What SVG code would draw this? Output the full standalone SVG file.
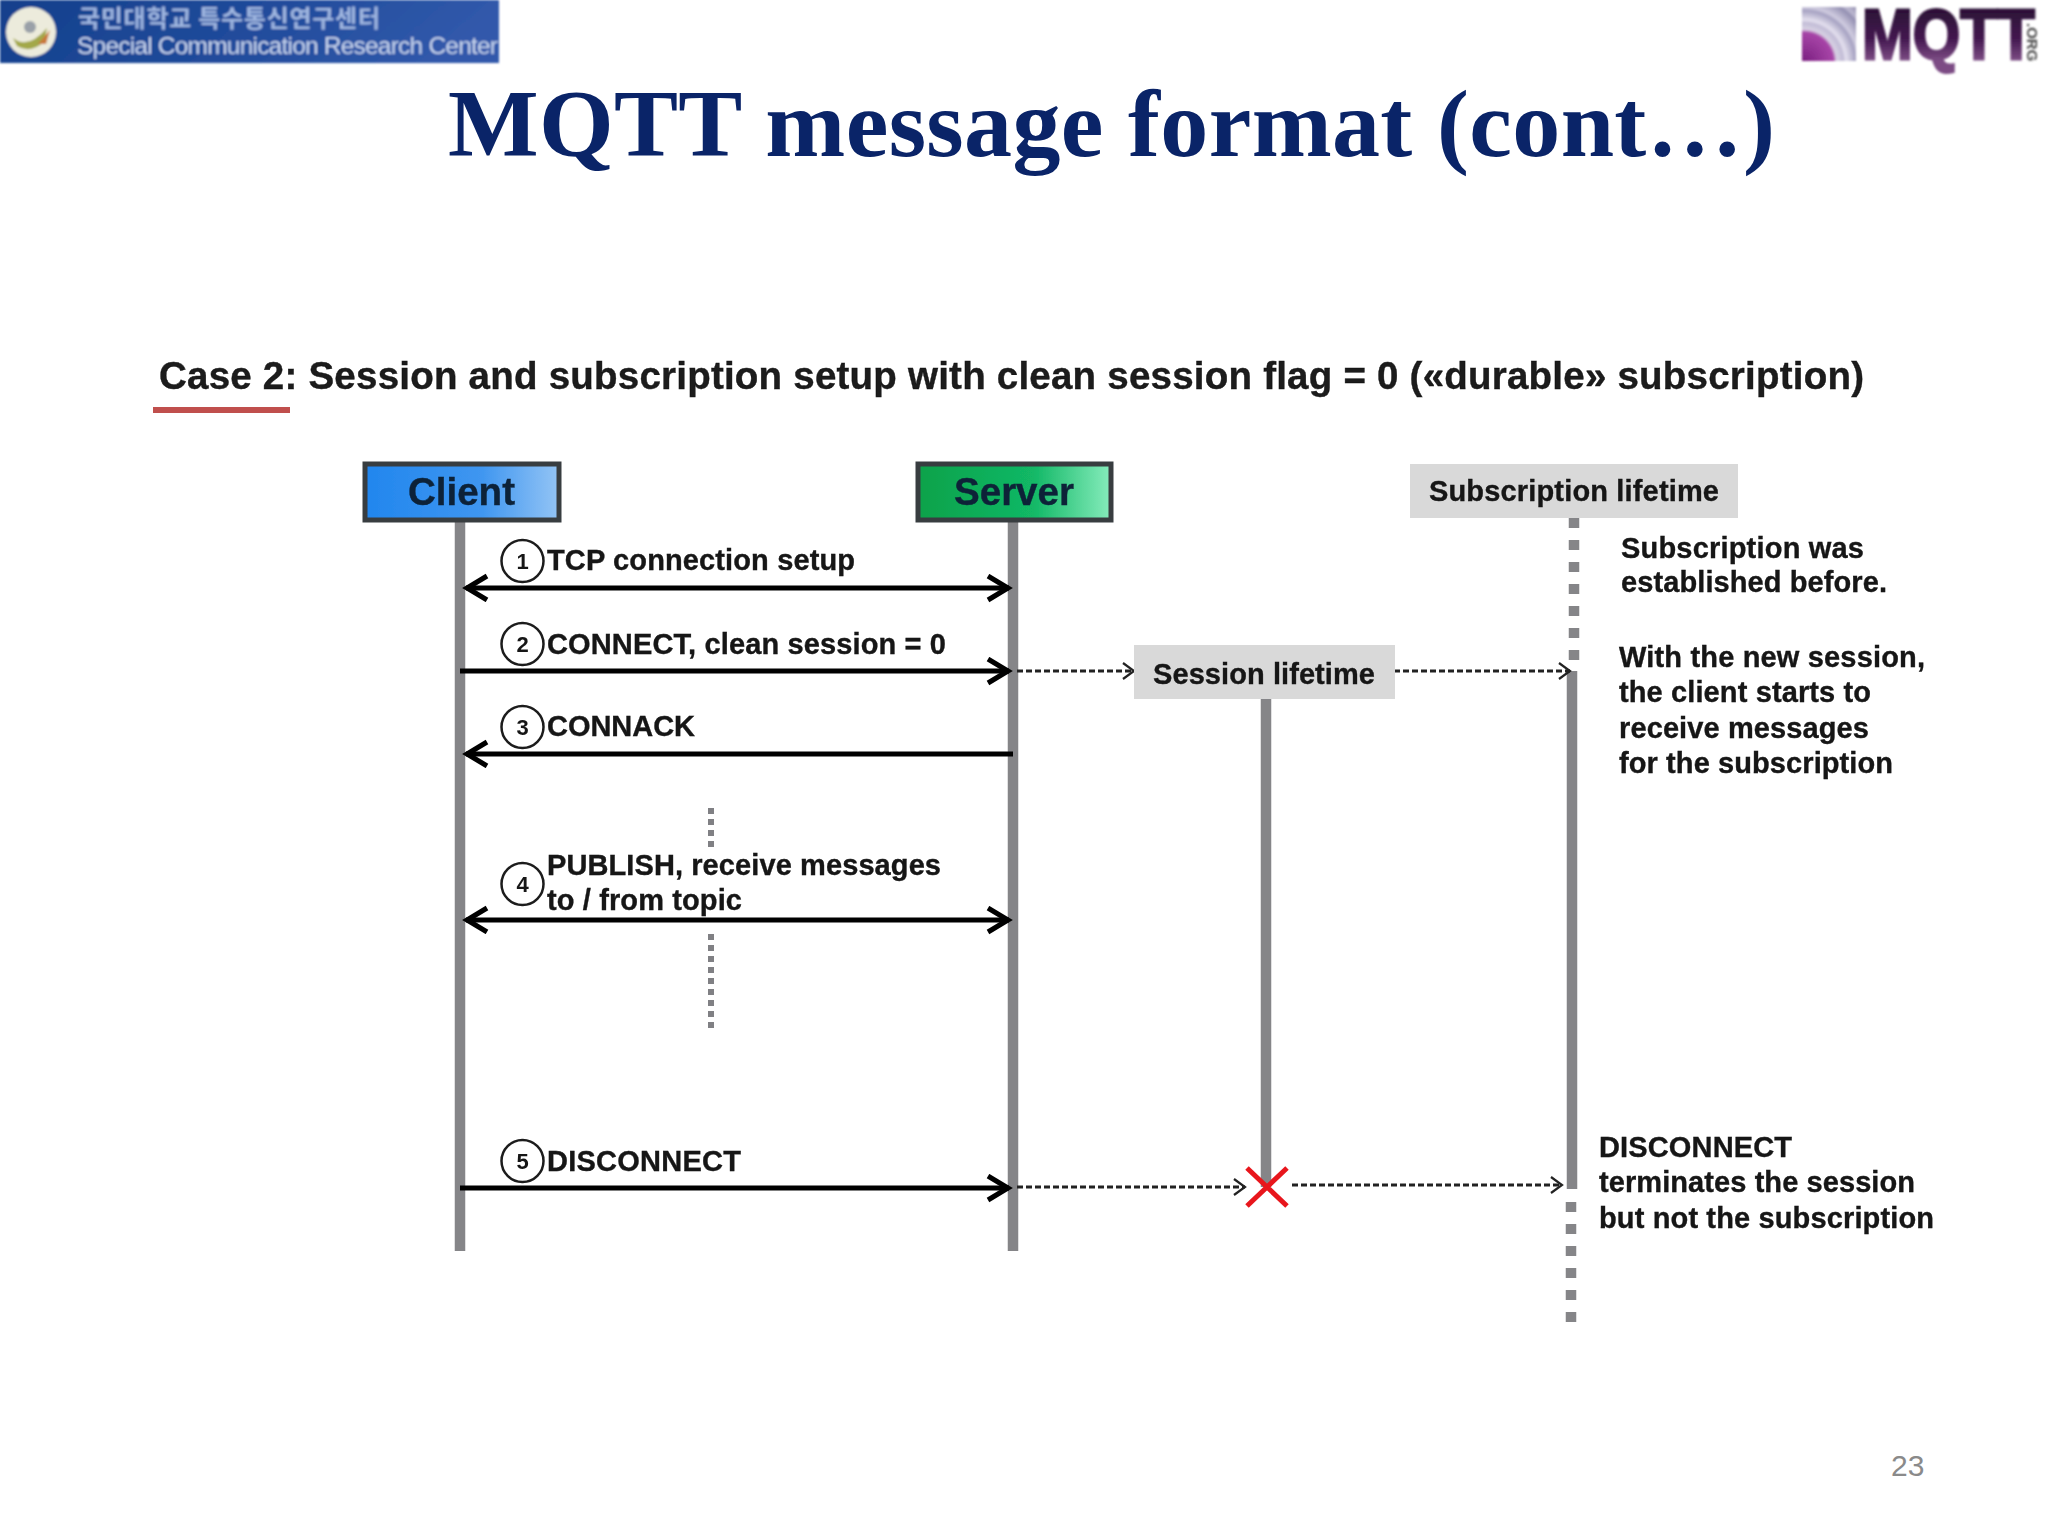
<svg xmlns="http://www.w3.org/2000/svg" width="2048" height="1536" viewBox="0 0 2048 1536">
<style>
text{font-family:"Liberation Sans",Arial,sans-serif}
.t{font-size:29px;font-weight:bold;fill:#141414;stroke:#141414;stroke-width:.35}
.n{font-size:22px;font-weight:bold;fill:#141414;text-anchor:middle}
.c{fill:#fff;stroke:#1c1c1c;stroke-width:2.5}
.actor{stroke:#383c40;stroke-width:5}
.al{font-size:38.5px;font-weight:bold;fill:#0c2238;stroke:#0c2238;stroke-width:.4;text-anchor:middle}
.life{stroke:#858588;stroke-width:10.5;fill:none}
.dots{stroke:#858588;stroke-width:10.5;stroke-dasharray:10 12;fill:none}
.dots2{stroke:#808084;stroke-width:6;stroke-dasharray:6 5;fill:none}
.msg{stroke:#000;stroke-width:5;fill:none}
.dash{stroke:#222;stroke-width:3;stroke-dasharray:6 3;fill:none}
.g{fill:#d9d9d9}
</style>
<defs>
<linearGradient id="banner" x1="0" y1="0" x2="1" y2="0.15"><stop offset="0" stop-color="#14408c"/><stop offset="0.5" stop-color="#1f4a9a"/><stop offset="1" stop-color="#3159ab"/></linearGradient>
<linearGradient id="cg" x1="0" y1="0" x2="1" y2="0"><stop offset="0" stop-color="#2186ee"/><stop offset="0.6" stop-color="#3f96f0"/><stop offset="1" stop-color="#93c4f5"/></linearGradient>
<linearGradient id="sg" x1="0" y1="0" x2="1" y2="0"><stop offset="0" stop-color="#0aa24a"/><stop offset="0.6" stop-color="#12b866"/><stop offset="1" stop-color="#86ecbc"/></linearGradient>
<linearGradient id="mq" gradientUnits="userSpaceOnUse" x1="0" y1="-46" x2="0" y2="1"><stop offset="0" stop-color="#2a1034"/><stop offset="0.6" stop-color="#43184f"/><stop offset="1" stop-color="#7c4c84"/></linearGradient>
<radialGradient id="arc" gradientUnits="userSpaceOnUse" cx="1804" cy="62" r="78"><stop offset="0" stop-color="#7a1f80"/><stop offset="0.38" stop-color="#a845a8"/><stop offset="0.42" stop-color="#d8d2e4"/><stop offset="0.5" stop-color="#c2bcd6"/><stop offset="0.54" stop-color="#e4e0ee"/><stop offset="0.66" stop-color="#a6a2c2"/><stop offset="0.7" stop-color="#d0cce0"/><stop offset="0.84" stop-color="#9490b2"/><stop offset="0.88" stop-color="#bcb8d0"/><stop offset="1" stop-color="#8c88aa"/></radialGradient>
<filter id="soft" x="-5%" y="-5%" width="110%" height="110%"><feGaussianBlur stdDeviation="0.9"/></filter>
<filter id="softer" filterUnits="userSpaceOnUse" x="0" y="300" width="2048" height="1100"><feGaussianBlur stdDeviation="0.55"/></filter>
<marker id="head" markerUnits="userSpaceOnUse" markerWidth="30" markerHeight="32" refX="24" refY="14" orient="auto-start-reverse"><path d="M3 2 L23 14 L3 26" fill="none" stroke="#000" stroke-width="5"/></marker>
<marker id="thin" markerUnits="userSpaceOnUse" markerWidth="16" markerHeight="22" refX="13" refY="10" orient="auto"><path d="M2 2 L13 10 L2 18" fill="none" stroke="#222" stroke-width="2.2"/></marker>
</defs>
<rect width="2048" height="1536" fill="#fff"/>

<g id="header-banner" filter="url(#soft)">
<rect x="0" y="0" width="499" height="63" fill="url(#banner)"/>
<circle cx="31" cy="32" r="25" fill="#ecebdc"/>
<path d="M13 38 Q28 50 47 28 L44 42 Q30 54 17 46Z" fill="#a3a848"/>
<path d="M38 44 L50 30 L46 44Z" fill="#c9793a"/>
<circle cx="30" cy="27" r="6" fill="#9aa0a8"/>
<text x="78" y="27" font-size="24" fill="#9fb6e0" style='font-family:"Noto Sans CJK KR",sans-serif' font-weight="bold" textLength="302">국민대학교 특수통신연구센터</text>
<text x="77" y="54" font-size="24.5" fill="#c6d4ee" textLength="421">Special Communication Research Center</text>
</g>

<g id="mqtt-logo" filter="url(#soft)">
<rect x="1802" y="7" width="54" height="54" fill="url(#arc)"/>
<text transform="translate(1862 59) scale(1 1.14)" x="0" y="0" font-size="61" font-weight="bold" fill="url(#mq)" stroke="url(#mq)" stroke-width="2.5">MQTT</text>
<text transform="translate(2027 23) rotate(90)" font-size="15" font-weight="bold" fill="#484848">.ORG</text>
</g>

<text id="title" x="448" y="156" font-size="96" font-weight="bold" fill="#0a2468" style='font-family:"Liberation Serif",serif' textLength="1327">MQTT message format (cont…)</text>

<g id="diagram" filter="url(#softer)">
<text id="case-title" x="159" y="389" font-size="38.5" font-weight="bold" fill="#1a1a1a" stroke="#1a1a1a" stroke-width=".4" textLength="1705">Case 2: Session and subscription setup with clean session flag = 0 («durable» subscription)</text>
<rect id="case-underline" x="153" y="407" width="137" height="6" fill="#c0504d"/>

<g id="connectors">
<path class="life" d="M460 522V1251"/>
<path class="life" d="M1013 522V1251"/>
<path class="life" d="M1266 699V1187"/>
<path class="life" d="M1572 671V1189"/>
<path class="dots" d="M1574 518V666"/>
<path class="dots" d="M1571 1202V1323"/>
<path class="dots2" d="M711 808V849"/>
<path class="dots2" d="M711 934V1029"/>
<path class="msg" d="M466 588H1009" marker-start="url(#head)" marker-end="url(#head)"/>
<path class="msg" d="M460 671H1009" marker-end="url(#head)"/>
<path class="msg" d="M1013 754H466" marker-end="url(#head)"/>
<path class="msg" d="M466 920H1009" marker-start="url(#head)" marker-end="url(#head)"/>
<path class="msg" d="M460 1188H1009" marker-end="url(#head)"/>
<path class="dash" d="M1017 671H1134" marker-end="url(#thin)"/>
<path class="dash" d="M1394 671H1570" marker-end="url(#thin)"/>
<path class="dash" d="M1017 1187H1245" marker-end="url(#thin)"/>
<path class="dash" d="M1292 1185H1562" marker-end="url(#thin)"/>
<path d="M1247 1168L1287 1206M1287 1168L1247 1206" stroke="#e8141c" stroke-width="5" fill="none"/>
</g>

<g id="client"><rect class="actor" x="365" y="464" width="194" height="56" fill="url(#cg)"/><text class="al" x="461.5" y="505">Client</text></g>
<g id="server"><rect class="actor" x="918" y="464" width="193" height="56" fill="url(#sg)"/><text class="al" x="1014" y="505">Server</text></g>
<g id="subscription-lifetime"><rect class="g" x="1410" y="464" width="328" height="54"/><text x="1429" y="501" class="t" textLength="290">Subscription lifetime</text></g>
<g id="session-lifetime"><rect class="g" x="1134" y="645" width="261" height="54"/><text x="1153" y="684" class="t" textLength="222">Session lifetime</text></g>

<g id="step-1"><circle class="c" cx="522.5" cy="561" r="21"/><text class="n" x="522.5" y="569">1</text><text class="t" x="547" y="570" textLength="308">TCP connection setup</text></g>
<g id="step-2"><circle class="c" cx="522.5" cy="644" r="21"/><text class="n" x="522.5" y="652">2</text><text class="t" x="547" y="654" textLength="399">CONNECT, clean session = 0</text></g>
<g id="step-3"><circle class="c" cx="522.5" cy="727" r="21"/><text class="n" x="522.5" y="735">3</text><text class="t" x="547" y="736" textLength="148">CONNACK</text></g>
<g id="step-4"><circle class="c" cx="522.5" cy="884" r="21"/><text class="n" x="522.5" y="892">4</text><text class="t" x="547" y="875" textLength="394">PUBLISH, receive messages</text><text class="t" x="547" y="910" textLength="195">to / from topic</text></g>
<g id="step-5"><circle class="c" cx="522.5" cy="1161" r="21"/><text class="n" x="522.5" y="1169">5</text><text class="t" x="547" y="1171" textLength="194">DISCONNECT</text></g>

<g id="notes">
<text class="t" x="1621" y="558" textLength="243">Subscription was</text>
<text class="t" x="1621" y="592" textLength="266">established before.</text>
<text class="t" x="1619" y="667" textLength="306">With the new session,</text>
<text class="t" x="1619" y="702" textLength="252">the client starts to</text>
<text class="t" x="1619" y="738" textLength="250">receive messages</text>
<text class="t" x="1619" y="773" textLength="274">for the subscription</text>
<text class="t" x="1599" y="1157" textLength="193">DISCONNECT</text>
<text class="t" x="1599" y="1192" textLength="316">terminates the session</text>
<text class="t" x="1599" y="1228" textLength="335">but not the subscription</text>
</g>
</g>
<text id="page-number" x="1891" y="1476" font-size="30" fill="#8a8a8a">23</text>
</svg>
